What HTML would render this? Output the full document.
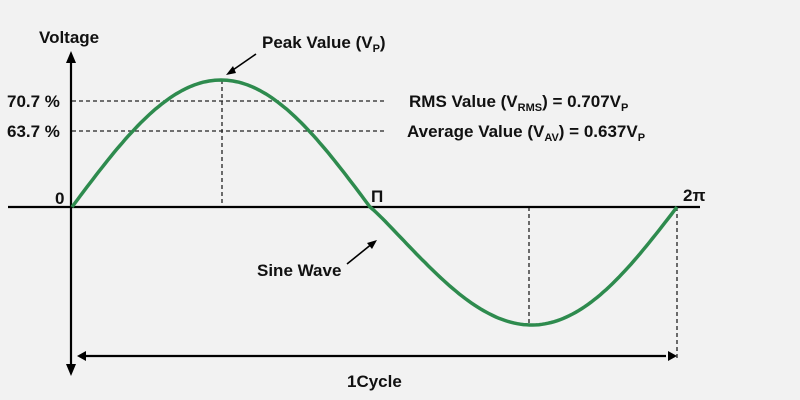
<!DOCTYPE html>
<html><head><meta charset="utf-8"><style>
html,body{margin:0;padding:0;background:#f2f2f2;}
svg{display:block;}
text{font-family:"Liberation Sans",sans-serif;font-weight:bold;fill:#111;font-size:17px;}
</style></head><body>
<svg width="800" height="400" viewBox="0 0 800 400">
<rect width="800" height="400" fill="#f2f2f2"/>
<g stroke="#222" stroke-width="1.3" stroke-dasharray="4,3">
<line x1="72" y1="101" x2="386" y2="101"/>
<line x1="72" y1="131" x2="386" y2="131"/>
<line x1="222" y1="80" x2="222" y2="207"/>
<line x1="529" y1="207" x2="529" y2="325"/>
<line x1="677" y1="207" x2="677" y2="358"/>
</g>
<g stroke="#000" stroke-width="2.2" fill="none">
<line x1="71" y1="62" x2="71" y2="366"/>
<line x1="8" y1="207" x2="700" y2="207"/>
<line x1="84" y1="356" x2="666" y2="356"/>
</g>
<polygon points="71,51 66,63 76,63" fill="#000"/>
<polygon points="71,376 66,364 76,364" fill="#000"/>
<polygon points="77,356 86,351 86,361" fill="#000"/>
<polygon points="677,356 668,351 668,361" fill="#000"/>
<path id="w" fill="none" stroke="#2e8b4e" stroke-width="3.5"/>
<g stroke="#000" stroke-width="1.6">
<line x1="256" y1="54" x2="230" y2="72"/>
<line x1="347" y1="264" x2="373" y2="243"/>
</g>
<polygon points="226,75 233,66 236,73" fill="#000"/>
<polygon points="377,240 367,243 372,249" fill="#000"/>
<text x="39" y="43" font-size="18">Voltage</text>
<text x="262" y="48" font-size="18">Peak Value (V<tspan font-size="11" dy="4">P</tspan><tspan dy="-4">)</tspan></text>
<text x="7" y="107">70.7 %</text>
<text x="7" y="137">63.7 %</text>
<text x="55" y="204">0</text>
<text x="371" y="202">Π</text>
<text x="683" y="201">2π</text>
<text x="409" y="107">RMS Value (V<tspan font-size="11" dy="4">RMS</tspan><tspan dy="-4">) = 0.707V</tspan><tspan font-size="11" dy="4">P</tspan></text>
<text x="407" y="137">Average Value (V<tspan font-size="11" dy="4">AV</tspan><tspan dy="-4">) = 0.637V</tspan><tspan font-size="11" dy="4">P</tspan></text>
<text x="257" y="276">Sine Wave</text>
<text x="347" y="387">1Cycle</text>
</svg>
<script>
var d="";
for(var i=0;i<=200;i++){var t=i/200,x,y;
if(t<=0.5){x=72+t*2*298;y=207-127*Math.sin(Math.PI*t*2);}
else{var s=(t-0.5)*2;var sw=s+0.08*Math.sin(Math.PI*s)*0; x=370+s*307;y=207+118*Math.sin(Math.PI*Math.pow(s,1.08));}
d+=(i?"L":"M")+x.toFixed(1)+","+y.toFixed(1);}
document.getElementById("w").setAttribute("d",d);
</script>
</body></html>
